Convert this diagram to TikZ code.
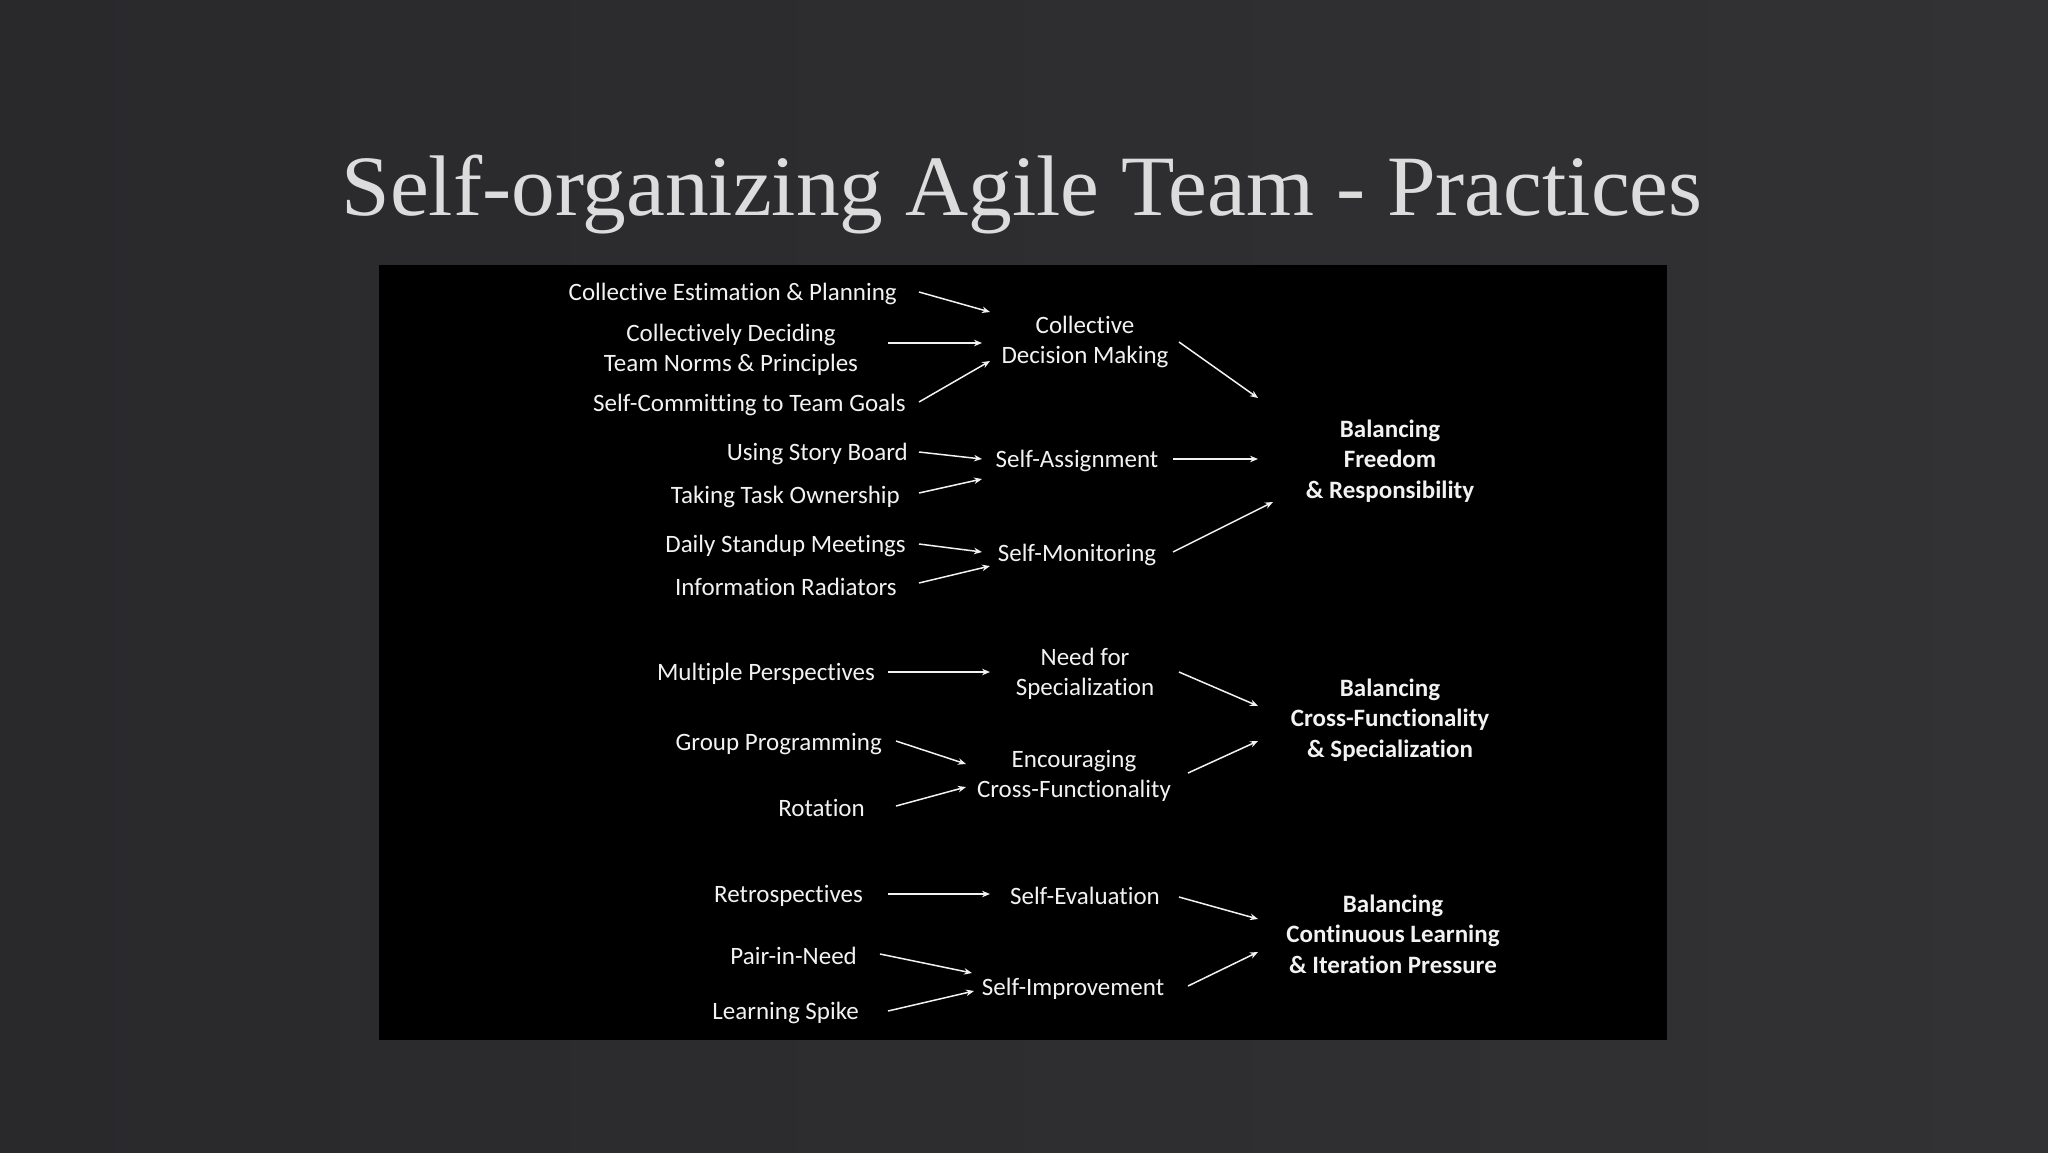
\documentclass[tikz,border=0pt]{standalone}
\usepackage{fontspec}
\setmainfont{Carlito}[Ligatures=CommonOff]
\newfontfamily\titlefont{Liberation Serif}
\usetikzlibrary{arrows.meta,calc}
\definecolor{bgleft}{HTML}{29282B}
\definecolor{bgright}{HTML}{323134}
\definecolor{txt}{HTML}{F2F2F2}
\definecolor{ttl}{HTML}{DCDCDC}
\begin{document}
\begin{tikzpicture}[x=1pt,y=-1pt,
  lbl/.style={text=txt, font=\fontsize{25}{30.5}\selectfont, inner sep=0pt, align=center, yshift=-3pt},
  bl/.style={lbl, font=\fontsize{25}{30.5}\selectfont\bfseries},
  arr/.style={draw=txt, line width=1.5pt, -{Stealth[length=8pt,width=6.5pt]}}]
\useasboundingbox (0,0) rectangle (2048,1152);
\shade[left color=bgleft, right color=bgright] (0,0) rectangle (2048,1152);
\fill[black] (379,265) rectangle (1667,1040);
\node[anchor=base, text=ttl, inner sep=0pt] (title) at (1022,215)
  {\resizebox{1361pt}{\height}{\titlefont\fontsize{86}{100}\selectfont Self-organizing Agile Team - Practices}};
% left column
\node[lbl, anchor=east] (L1) at (897,291) {Collective Estimation \& Planning};
\node[lbl] (L2) at (731,347) {Collectively Deciding\\Team Norms \& Principles};
\node[lbl, anchor=east] (L3) at (906,402) {Self-Committing to Team Goals};
\node[lbl, anchor=east] (L4) at (908,451) {Using Story Board};
\node[lbl, anchor=east] (L5) at (900,494) {Taking Task Ownership};
\node[lbl, anchor=east] (L6) at (906,543) {Daily Standup Meetings};
\node[lbl, anchor=east] (L7) at (897,584) {Information Radiators};
\node[lbl, anchor=east] (L8) at (875,671) {Multiple Perspectives};
\node[lbl, anchor=east] (L9) at (882,741) {Group Programming};
\node[lbl, anchor=east] (L10) at (865,805) {Rotation};
\node[lbl, anchor=east] (L11) at (863,893) {Retrospectives};
\node[lbl, anchor=east] (L12) at (857,953) {Pair-in-Need};
\node[lbl, anchor=east] (L13) at (859,1010) {Learning Spike};
% middle column
\node[lbl] (M1) at (1085,339) {Collective\\Decision Making};
\node[lbl] (M2) at (1077,458) {Self-Assignment};
\node[lbl] (M3) at (1077,552) {Self-Monitoring};
\node[lbl] (M4) at (1085,671) {Need for\\Specialization};
\node[lbl] (M5) at (1074,773) {Encouraging\\Cross-Functionality};
\node[lbl] (M6) at (1085,893) {Self-Evaluation};
\node[lbl] (M7) at (1073,986) {Self-Improvement};
% right column
\node[bl] (R1) at (1390,458) {Balancing\\Freedom\\\& Responsibility};
\node[bl] (R2) at (1390,717) {Balancing\\Cross-Functionality\\\& Specialization};
\node[bl] (R3) at (1393,931) {Balancing\\Continuous Learning\\\& Iteration Pressure};
% arrows left -> middle
\draw[arr] ([shift={(22,-2)}]L1.east) -- ([shift={(-95,-30)}]M1.center);
\draw[arr] ([shift={(157,-7)}]L2.center) -- ([shift={(-103,1)}]M1.center);
\draw[arr] ([shift={(13,-3)}]L3.east) -- ([shift={(-95,19)}]M1.center);
\draw[arr] ([shift={(11,-2)}]L4.east) -- ([shift={(-95,-2)}]M2.center);
\draw[arr] ([shift={(19,-4)}]L5.east) -- ([shift={(-95,18)}]M2.center);
\draw[arr] ([shift={(13,-2)}]L6.east) -- ([shift={(-95,-3)}]M3.center);
\draw[arr] ([shift={(22,-4)}]L7.east) -- ([shift={(-87,11)}]M3.center);
\draw[arr] ([shift={(13,-2)}]L8.east) -- ([shift={(-95,-2)}]M4.center);
\draw[arr] ([shift={(14,-3)}]L9.east) -- ([shift={(-108,-12)}]M5.center);
\draw[arr] ([shift={(31,-2)}]L10.east) -- ([shift={(-108,11)}]M5.center);
\draw[arr] ([shift={(25,-2)}]L11.east) -- ([shift={(-95,-2)}]M6.center);
\draw[arr] ([shift={(23,-2)}]L12.east) -- ([shift={(-101,-16)}]M7.center);
\draw[arr] ([shift={(29,-2)}]L13.east) -- ([shift={(-99,2)}]M7.center);
% arrows middle -> right
\draw[arr] ([shift={(94,0)}]M1.center) -- ([shift={(-132,-63)}]R1.center);
\draw[arr] ([shift={(96,-2)}]M2.center) -- ([shift={(-132,-2)}]R1.center);
\draw[arr] ([shift={(96,-3)}]M3.center) -- ([shift={(-117,41)}]R1.center);
\draw[arr] ([shift={(94,-2)}]M4.center) -- ([shift={(-132,-14)}]R2.center);
\draw[arr] ([shift={(114,-3)}]M5.center) -- ([shift={(-132,21)}]R2.center);
\draw[arr] ([shift={(94,1)}]M6.center) -- ([shift={(-135,-15)}]R3.center);
\draw[arr] ([shift={(115,-3)}]M7.center) -- ([shift={(-135,18)}]R3.center);
\end{tikzpicture}
\end{document}
